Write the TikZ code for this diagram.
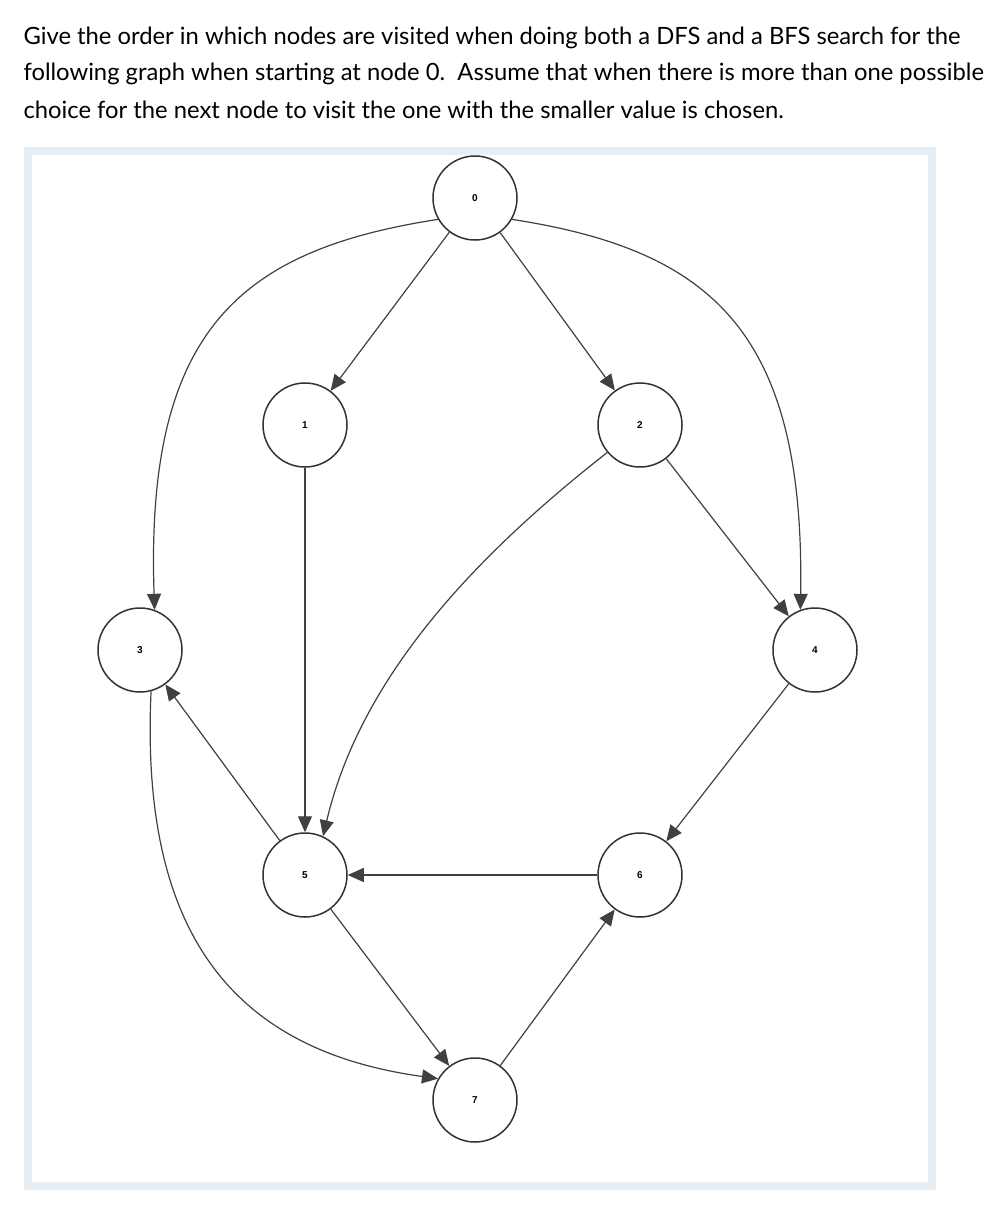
\documentclass[tikz,border=0pt]{standalone}
\usepackage{fontspec}
\setmainfont{Lato}
\newfontfamily\arialf{Liberation Sans}
\usetikzlibrary{arrows.meta}
\begin{document}
\begin{tikzpicture}[x=1pt,y=-1pt,
  vert/.style={circle,draw=black!80,line width=1.5pt,minimum size=84pt,inner sep=0pt,font=\arialf\fontsize{10}{11}\selectfont\bfseries},
  edge/.style={draw=black!75,line width=1.2pt,-{Triangle[length=16pt,width=14pt]}}]
\useasboundingbox (0,0) rectangle (994,1216);
\node[anchor=west,font=\fontsize{23.8}{28}\selectfont] (t1) at (20,38) {Give the order in which nodes are visited when doing both a DFS and a BFS search for the};
\node[anchor=west,font=\fontsize{23.8}{28}\selectfont] (t2) at (20,74) {following graph when starting at node 0.\ \ Assume that when there is more than one possible};
\node[anchor=west,font=\fontsize{23.8}{28}\selectfont] (t3) at (20,110) {choice for the next node to visit the one with the smaller value is chosen.};
\draw[draw={rgb,255:red,230;green,239;blue,245},line width=8pt] (28,151) rectangle (932,1186);
\node[vert] (n0) at (475,198) {0};
\node[vert] (n1) at (305,425) {1};
\node[vert] (n2) at (640,425) {2};
\node[vert] (n3) at (140,650) {3};
\node[vert] (n4) at (815,650) {4};
\node[vert] (n5) at (305,875) {5};
\node[vert] (n6) at (640,875) {6};
\node[vert] (n7) at (475,1100) {7};
\draw[edge] (n0) -- (n1);
\draw[edge] (n0) -- (n2);
\draw[edge] (n0.210) .. controls (240,250) and (145,330) .. (n3.70);
\draw[edge] (n0.-30) .. controls (710,250) and (805,330) .. (n4.110);
\draw[edge] (n1) -- (n5);
\draw[edge] (n2.220) .. controls (470,560) and (360,680) .. (n5.65);
\draw[edge] (n2) -- (n4);
\draw[edge] (n4) -- (n6);
\draw[edge] (n6) -- (n5);
\draw[edge] (n5) -- (n3);
\draw[edge] (n5) -- (n7);
\draw[edge] (n7) -- (n6);
\draw[edge] (n3.-75) .. controls (140,930) and (230,1050) .. (n7.150);
\end{tikzpicture}
\end{document}
